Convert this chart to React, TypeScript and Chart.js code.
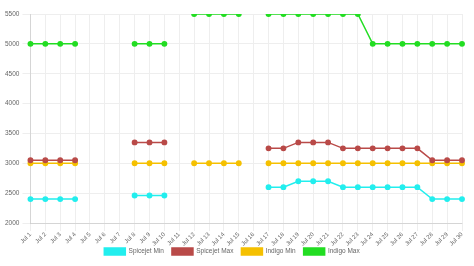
import React, { useEffect, useRef } from "react";
import { Chart, registerables } from "chart.js";

Chart.register(...registerables);

const labels = Array.from({ length: 30 }, (_, i) => `Jul ${i + 1}`);

const spicejetMin = [
  2400, 2400, 2400, 2400, null, null, null, 2460, 2460, 2460,
  null, null, null, null, null, null, 2600, 2600, 2700, 2700,
  2700, 2600, 2600, 2600, 2600, 2600, 2600, 2400, 2400, 2400,
];
const spicejetMax = [
  3050, 3050, 3050, 3050, null, null, null, 3350, 3350, 3350,
  null, null, null, null, null, null, 3250, 3250, 3350, 3350,
  3350, 3250, 3250, 3250, 3250, 3250, 3250, 3050, 3050, 3050,
];
const indigoMin = [
  3000, 3000, 3000, 3000, null, null, null, 3000, 3000, 3000,
  null, 3000, 3000, 3000, 3000, null, 3000, 3000, 3000, 3000,
  3000, 3000, 3000, 3000, 3000, 3000, 3000, 3000, 3000, 3000,
];
const indigoMax = [
  5000, 5000, 5000, 5000, null, null, null, 5000, 5000, 5000,
  null, 5500, 5500, 5500, 5500, null, 5500, 5500, 5500, 5500,
  5500, 5500, 5500, 5000, 5000, 5000, 5000, 5000, 5000, 5000,
];

const seriesNames = ["Spicejet Min", "Spicejet Max", "Indigo Min", "Indigo Max"];
const seriesColors = ["#22EEEE", "#B94A48", "#F5C000", "#22DD22"];

export default function App() {
  const ref = useRef<HTMLCanvasElement | null>(null);
  useEffect(() => {
    if (!ref.current) return;
    const data = [spicejetMin, spicejetMax, indigoMin, indigoMax];
    const font = { size: 6.5, family: "Liberation Sans" };
    const xFont = { size: 6, family: "Liberation Sans" };
    const chart = new Chart(ref.current, {
      type: "line",
      data: {
        labels,
        datasets: data.map((d, i) => ({
          label: seriesNames[i],
          data: d,
          borderColor: seriesColors[i],
          backgroundColor: seriesColors[i],
          pointBackgroundColor: seriesColors[i],
          pointBorderColor: seriesColors[i],
          borderWidth: 1.5,
          pointRadius: 2.2,
          tension: 0,
          spanGaps: false,
          fill: false,
        })),
      },
      options: {
        animation: false,
        responsive: true,
        maintainAspectRatio: false,
        layout: { padding: { top: 14, right: 12, left: 2, bottom: 1 } },
        plugins: {
          legend: {
            position: "bottom",
            labels: {
              boxWidth: 21,
              boxHeight: 7,
              font,
              color: "#666",
              padding: 8,
            },
          },
          tooltip: { enabled: false },
        },
        scales: {
          x: {
            grid: { color: "#eeeeee" },
            afterFit: (scale: any) => {
              scale.height = 17;
              scale._computeLabelArea = () => undefined;
            },
            ticks: {
              maxRotation: 45,
              minRotation: 45,
              autoSkip: false,
              padding: 0,
              font: xFont,
              color: "#666",
            },
          },
          y: {
            min: 2000,
            max: 5500,
            grid: { color: "#eeeeee" },
            ticks: {
              stepSize: 500,
              callback: (v: any) => String(v),
              font,
              color: "#666",
            },
          },
        },
      },
    });
    return () => chart.destroy();
  }, []);
  return (
    <div style={{ position: "fixed", left: 0, top: 0, width: 474, height: 266 }}>
      <canvas ref={ref} />
    </div>
  );
}
